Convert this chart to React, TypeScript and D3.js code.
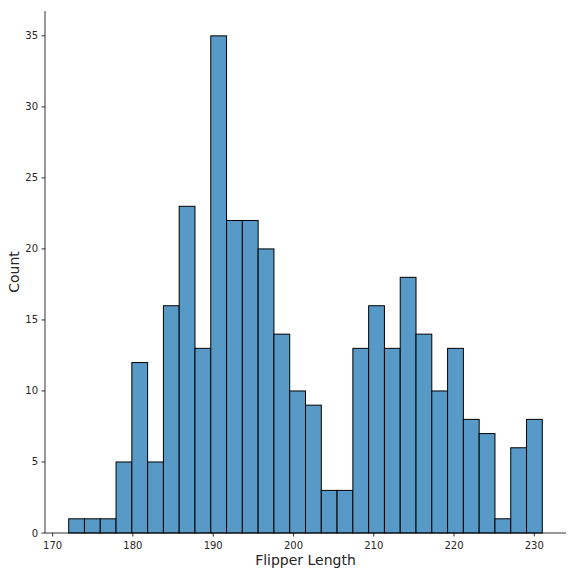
import React from "react";
import * as d3 from "d3";

const counts = [1, 1, 1, 5, 12, 5, 16, 23, 13, 35, 22, 22, 20, 14, 10, 9, 3, 3, 13, 16, 13, 18, 14, 10, 13, 8, 7, 1, 6, 8];
const binStart = 172;
const binEnd = 231;
const xTicks = [170, 180, 190, 200, 210, 220, 230];
const yTicks = [0, 5, 10, 15, 20, 25, 30, 35];

const W = 576;
const H = 576;
const margin = { top: 11, right: 10, bottom: 43, left: 45 };

const App = () => {
  const binW = (binEnd - binStart) / counts.length;
  const bins = counts.map((c, i) => ({ x0: binStart + i * binW, x1: binStart + (i + 1) * binW, count: c }));
  const pad = (binEnd - binStart) * 0.05;
  const x = d3
    .scaleLinear()
    .domain([binStart - pad, binEnd + pad])
    .range([margin.left, W - margin.right]);
  const y = d3
    .scaleLinear()
    .domain([0, d3.max(counts) * 1.05])
    .range([H - margin.bottom, margin.top]);
  const font = "DejaVu Sans, sans-serif";
  const y0 = y(0);

  return (
    <svg width={W} height={H} style={{ position: "absolute", left: 0, top: 0 }} fontFamily={font}>
      <rect width={W} height={H} fill="#fff" />
      {bins.map((b, i) => (
        <rect
          key={i}
          x={x(b.x0)}
          y={y(b.count)}
          width={x(b.x1) - x(b.x0)}
          height={y0 - y(b.count)}
          fill="#5799c7"
          stroke="#000"
          strokeWidth={1}
        />
      ))}
      <line x1={margin.left} x2={margin.left} y1={margin.top} y2={y0} stroke="#000" strokeWidth={0.8} />
      <line x1={margin.left} x2={W - margin.right} y1={y0} y2={y0} stroke="#000" strokeWidth={0.8} />
      {xTicks.map((t) => (
        <g key={t} transform={`translate(${x(t)},${y0})`}>
          <line y2={3.5} stroke="#000" strokeWidth={0.8} />
          <text y={16} textAnchor="middle" fontSize={10} fill="#262626">
            {t}
          </text>
        </g>
      ))}
      {yTicks.map((t) => (
        <g key={t} transform={`translate(${margin.left},${y(t)})`}>
          <line x2={-3.5} stroke="#000" strokeWidth={0.8} />
          <text x={-7} dy="0.35em" textAnchor="end" fontSize={10} fill="#262626">
            {t}
          </text>
        </g>
      ))}
      <text x={(margin.left + W - margin.right) / 2} y={565} textAnchor="middle" fontSize={14} fill="#262626">
        Flipper Length
      </text>
      <text
        transform={`translate(19,${(margin.top + y0) / 2}) rotate(-90)`}
        textAnchor="middle"
        fontSize={14}
        fill="#262626"
      >
        Count
      </text>
    </svg>
  );
};

export default App;
